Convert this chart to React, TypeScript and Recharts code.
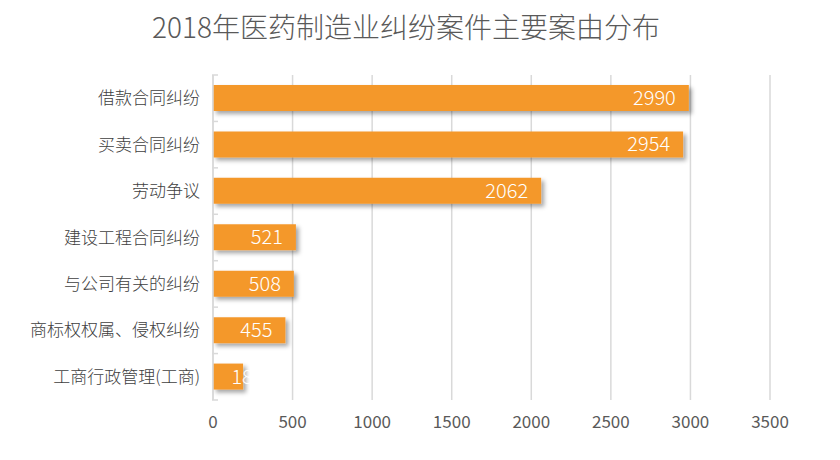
import { BarChart, Bar, XAxis, YAxis, CartesianGrid, LabelList } from "recharts";

// ─── Data ────────────────────────────────────────────────────────────────────
const categories = [
  "借款合同纠纷",
  "买卖合同纠纷",
  "劳动争议",
  "建设工程合同纠纷",
  "与公司有关的纠纷",
  "商标权权属、侵权纠纷",
  "工商行政管理(工商)",
];
const caseCounts = [2990, 2954, 2062, 521, 508, 455, 189];
const xTicks = [0, 500, 1000, 1500, 2000, 2500, 3000, 3500];

const data = categories.map((name, i) => ({ name, value: caseCounts[i] }));

const FONT = '"Noto Sans CJK SC", "Noto Sans", sans-serif';
const BAND = 325 / categories.length;

// category label + excel-style boundary ticks
function CategoryTick({ x, y, payload, index }: any) {
  const axisX = x + 13;
  const last = index === categories.length - 1;
  return (
    <g>
      <line x1={axisX - 6} x2={axisX} y1={y - BAND / 2} y2={y - BAND / 2} stroke="#d9d9d9" strokeWidth={1.5} />
      {last && <line x1={axisX - 6} x2={axisX} y1={y + BAND / 2} y2={y + BAND / 2} stroke="#d9d9d9" strokeWidth={1.5} />}
      <text x={x - 5} y={y} dy={6} textAnchor="end" fill="#404040" fontSize={17} fontWeight={300} fontFamily={FONT}>
        {payload.value}
      </text>
    </g>
  );
}

// white value inside bar end; pushed right when bar is too short
function ValueLabel({ x, y, width, height, value }: any) {
  const textW = String(value).length * 11.5;
  const endX = Math.max(x + width - 13, x + 16 + textW);
  return (
    <text x={endX} y={y + height / 2} dy={7} textAnchor="end" fill="#ffffff" fontSize={20} fontWeight={300} fontFamily={FONT}>
      {value}
    </text>
  );
}

export default function App() {
  return (
    <div style={{ position: "absolute", left: 0, top: 0, width: 840, height: 460, background: "#fff" }}>
      <div
        style={{
          position: "absolute",
          top: 6,
          left: 0,
          width: 812,
          textAlign: "center",
          fontFamily: FONT,
          fontSize: 28,
          fontWeight: 300,
          color: "#595959",
        }}
      >
        2018年医药制造业纠纷案件主要案由分布
      </div>
      <BarChart
        width={840}
        height={460}
        data={data}
        layout="vertical"
        margin={{ top: 75, right: 70, left: 0, bottom: 20 }}
        barSize={26}
      >
        <defs>
          <filter id="barShadow" x="-10%" y="-20%" width="130%" height="160%">
            <feDropShadow dx={3} dy={3} stdDeviation={2} floodColor="#000" floodOpacity={0.35} />
          </filter>
        </defs>
        <CartesianGrid horizontal={false} stroke="#d9d9d9" strokeWidth={1.5} />
        <XAxis
          type="number"
          domain={[0, 3500]}
          ticks={xTicks}
          axisLine={false}
          tickLine={false}
          height={40}
          tickMargin={10}
          tick={{ fill: "#595959", fontSize: 17, fontFamily: FONT }}
        />
        <YAxis
          type="category"
          dataKey="name"
          width={213}
          axisLine={{ stroke: "#d9d9d9", strokeWidth: 1.5 }}
          tickLine={false}
          tick={<CategoryTick />}
        />
        <Bar dataKey="value" fill="#F4982C" filter="url(#barShadow)" isAnimationActive={false}>
          <LabelList dataKey="value" content={<ValueLabel />} />
        </Bar>
      </BarChart>
    </div>
  );
}
